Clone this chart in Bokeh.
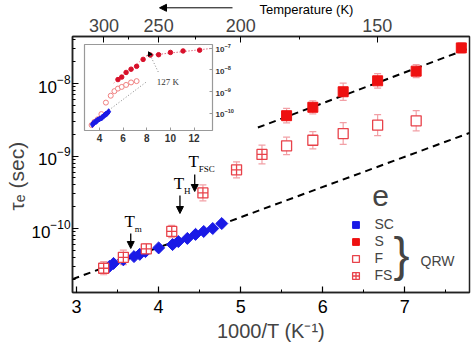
import math
from bokeh.plotting import figure
from bokeh.models import (ColumnDataSource, Whisker, TeeHead, Arrow, NormalHead, Label,
                          Legend, LegendItem, LinearAxis, FixedTicker, CustomJSTickFormatter,
                          SingleIntervalTicker, Range1d)
from bokeh.core.properties import value
from bokeh.embed import file_html
from bokeh.resources import INLINE

# ---------------- data ----------------
sc_x = [3.40, 3.45, 3.57, 3.70, 3.77, 3.84, 4.00, 4.17, 4.24, 4.35, 4.45, 4.55, 4.66, 4.77]
sc_tau = [3.0e-11, 3.3e-11, 3.7e-11, 4.1e-11, 4.4e-11, 4.8e-11, 5.4e-11, 6.0e-11,
          6.6e-11, 7.3e-11, 8.3e-11, 9.1e-11, 1.0e-10, 1.17e-10]

s_x = [5.56, 5.88, 6.25, 6.67, 7.14, 7.69]
s_tau = [3.6e-9, 4.7e-9, 7.7e-9, 1.09e-8, 1.48e-8, 3.1e-8]
s_err_dec = [0.10, 0.09, 0.12, 0.10, 0.09, 0.07]

f_x = [5.56, 5.88, 6.25, 6.67, 7.14]
f_tau = [1.38e-9, 1.65e-9, 2.04e-9, 2.66e-9, 3.06e-9]
f_err_dec = [0.12, 0.12, 0.15, 0.145, 0.14]

fs_x = [3.33, 3.57, 3.85, 4.16, 4.54, 4.95, 5.26]
fs_tau = [2.83e-11, 4.0e-11, 5.25e-11, 9.1e-11, 3.1e-10, 6.45e-10, 1.05e-9]
fs_err_dec = [0.09, 0.10, 0.07, 0.085, 0.11, 0.11, 0.13]

fit_sc_x = [2.95, 7.80]
fit_sc_tau = [2.0e-11, 2.1e-9]
fit_s_x = [5.21, 7.78]
fit_s_tau = [2.47e-9, 3.04e-8]

ann_x = [3.66, 4.26, 4.44]
ann_sub = ["m", "H", "FSC"]
ann_tau_top = [8.5e-11, 2.85e-10, 5.56e-10]
ann_tau_bottom = [5.3e-11, 1.61e-10, 3.24e-10]

temp_major = [300, 250, 200, 150]
temp_minor = [275, 225, 175]

# inset
ins_s_extra_x = [8.30, 9.0, 10.0, 11.07, 12.47]
ins_s_extra_tau = [4.9e-8, 5.1e-8, 6.5e-8, 7.6e-8, 8.3e-8]
ins_fit_sc_x = [4.8, 8.0]
ins_fit_sc_tau = [1.4e-10, 2.9e-9]
ins_fit_s_x = [5.2, 8.0]
ins_fit_s_tau = [2.45e-9, 4.6e-8]
ins_fit_low_x = [8.0, 13.5]
ins_fit_low_tau = [4.6e-8, 1.0e-7]

SANS = "Liberation Sans"
SERIF = "Liberation Serif"
BLUE = "#1a1ae6"
RED = "#ee1111"
PINK = "#e8424a"
BAR = "#f2a0a6"
NB = "\u00a0"


def err_src(xs, ys, ed):
    return ColumnDataSource(dict(x=xs, y=ys,
                                 lo=[y * 10 ** (-e) for y, e in zip(ys, ed)],
                                 hi=[y * 10 ** e for y, e in zip(ys, ed)]))


# ---------------- main figure ----------------
p = figure(width=474, height=347, x_range=(2.95, 7.79), y_range=(1.31e-11, 4.45e-8),
           y_axis_type="log", output_backend="svg", toolbar_location=None,
           min_border_left=72, min_border_right=5, min_border_top=36, min_border_bottom=55)
p.grid.visible = False
p.outline_line_color = "#222222"
p.outline_line_width = 1.5
p.background_fill_color = "white"
p.border_fill_color = "white"

xa = p.xaxis[0]
xa.ticker = SingleIntervalTicker(interval=1, num_minor_ticks=2)
xa.axis_label = "1000/T (K\u207b\u00b9)"
xa.axis_label_text_font = SANS
xa.axis_label_text_font_size = "20px"
xa.axis_label_text_font_style = "normal"
xa.axis_label_standoff = 4
xa.major_label_text_font = SANS
xa.major_label_text_font_size = "18px"
xa.major_label_standoff = 7

ya = p.yaxis[0]
ya.major_label_text_font = SANS
ya.major_label_text_font_size = "17px"
ya.major_label_standoff = 2
ya.axis_label = "\u03c4\u2091 (sec)" + NB * 4
ya.axis_label_text_font = SANS
ya.axis_label_text_font_size = "21px"
ya.axis_label_text_font_style = "normal"
ya.axis_label_standoff = 0

for ax in (xa, ya):
    ax.major_tick_in = 6
    ax.major_tick_out = 0
    ax.minor_tick_in = 3
    ax.minor_tick_out = 0
    ax.axis_line_color = "#222222"
    ax.axis_line_width = 1.5
    ax.major_tick_line_width = 1.2
    ax.major_label_text_color = "black"

top = LinearAxis(
    ticker=FixedTicker(ticks=[1000 / t for t in temp_major], minor_ticks=[1000 / t for t in temp_minor]),
    formatter=CustomJSTickFormatter(code="return Math.round(1000/tick).toString()"),
    major_tick_in=6, major_tick_out=0, minor_tick_in=3, minor_tick_out=0,
    major_label_text_font=SANS, major_label_text_font_size="18px", major_label_standoff=5,
    axis_line_color="#222222", axis_line_width=1.5)
p.add_layout(top, "above")

# fit lines
p.line(fit_sc_x, fit_sc_tau, line_color="black", line_width=2, line_dash="7 5")
p.line(fit_s_x, fit_s_tau, line_color="black", line_width=2, line_dash="7 5")

# error bars
for xs, ys, ed in ((s_x, s_tau, s_err_dec), (f_x, f_tau, f_err_dec), (fs_x, fs_tau, fs_err_dec)):
    w = Whisker(source=err_src(xs, ys, ed), base="x", lower="lo", upper="hi",
                line_color=BAR, line_width=1.2, level="underlay",
                upper_head=TeeHead(size=7, line_color=BAR, line_width=1.2),
                lower_head=TeeHead(size=7, line_color=BAR, line_width=1.2))
    p.add_layout(w)

r_sc = p.scatter(sc_x, sc_tau, marker="square", angle=math.pi / 4, size=8.5,
                 fill_color=BLUE, line_color=BLUE)
r_s = p.scatter(s_x, s_tau, marker="square", size=10, fill_color=RED, line_color=RED)
r_f = p.scatter(f_x, f_tau, marker="square", size=10, fill_color="white", line_color=PINK, line_width=1.3)
r_fs = p.scatter(fs_x, fs_tau, marker="square_cross", size=10, fill_color="white", line_color=PINK, line_width=1.3)

# T annotations
ann_src = ColumnDataSource(dict(x=ann_x, y0=ann_tau_top, y1=ann_tau_bottom, sub=ann_sub,
                                t=["T"] * len(ann_x)))
p.add_layout(Arrow(source=ann_src, x_start="x", y_start="y0", x_end="x", y_end="y1",
                   line_color="black", line_width=1.3,
                   end=NormalHead(size=7, fill_color="black", line_color="black")))
p.text(x="x", y="y0", text="t", source=ann_src, text_font=value(SERIF), text_font_size="17px",
       text_align="center", text_baseline="bottom", x_offset=-1, y_offset=-3, text_color="black")
p.text(x="x", y="y0", text="sub", source=ann_src, text_font=value(SERIF), text_font_size="9px",
       text_align="left", text_baseline="bottom", x_offset=4, y_offset=0, text_color="black")

# legend
legend = Legend(items=[LegendItem(label="SC", renderers=[r_sc]),
                       LegendItem(label="S", renderers=[r_s]),
                       LegendItem(label="F", renderers=[r_f]),
                       LegendItem(label="FS", renderers=[r_fs])],
                location=(274.5, 8.5), padding=0, margin=0, spacing=0,
                label_height=17, glyph_height=17, glyph_width=17, label_standoff=11,
                label_text_font=SANS, label_text_font_size="14px",
                background_fill_alpha=0, border_line_color=None)
p.add_layout(legend)

p.add_layout(Label(x=308, y=97, x_units="screen", y_units="screen", text="e",
                   text_font=SANS, text_font_size="30px", text_align="center",
                   text_baseline="middle"))
p.add_layout(Label(x=329, y=38, x_units="screen", y_units="screen", text="}",
                   text_font=SANS, text_font_size="48px", text_align="center",
                   text_baseline="middle"))
p.add_layout(Label(x=348, y=32, x_units="screen", y_units="screen", text="QRW",
                   text_font=SANS, text_font_size="14px", text_align="left",
                   text_baseline="middle"))

# ---------------- header (temperature title and arrow) ----------------
hdr = figure(width=474, height=18, x_range=Range1d(0, 474), y_range=Range1d(18, 0),
             x_axis_type=None, y_axis_type=None, output_backend="svg", toolbar_location=None,
             min_border=0, min_border_left=0, min_border_right=0, min_border_top=0,
             min_border_bottom=0)
hdr.grid.visible = False
hdr.outline_line_color = None
hdr.background_fill_alpha = 0
hdr.border_fill_alpha = 0
hdr.text(x=[259], y=[8.5], text=["Temperature (K)"], text_font=value(SANS),
         text_font_size="13px", text_align="left", text_baseline="middle", text_color="black")
hdr.add_layout(Arrow(x_start=232, y_start=7.3, x_end=159, y_end=7.3, line_width=1,
                     line_color="black",
                     end=NormalHead(size=7, fill_color="black", line_color="black")))
hdr.styles = {"position": "absolute", "left": "0px", "top": "0px"}

# ---------------- inset ----------------
ins = figure(width=160, height=106, x_range=(2.73, 13.56), y_range=(10 ** -10.8, 10 ** -6.82),
             y_axis_type="log", y_axis_location="right", output_backend="svg",
             toolbar_location=None, min_border_left=2, min_border_top=2,
             min_border_right=30, min_border_bottom=18)
ins.grid.visible = False
ins.outline_line_color = "#999999"
ins.outline_line_width = 1.2
ins.border_fill_alpha = 0
ins.background_fill_color = "white"
ins.xaxis.ticker = SingleIntervalTicker(interval=2, num_minor_ticks=0)
for ax in (ins.xaxis[0], ins.yaxis[0]):
    ax.axis_line_color = None
    ax.major_tick_in = 3
    ax.major_tick_out = 0
    ax.minor_tick_in = 0
    ax.minor_tick_out = 0
    ax.major_tick_line_color = "#999999"
    ax.major_label_text_font = SANS
    ax.major_label_standoff = 3
ins.xaxis.major_label_text_font_size = "10px"
ins.xaxis.major_label_text_font_style = "bold"
ins.xaxis.major_label_text_color = "#333333"
ins.yaxis.major_label_text_font_size = "8px"
ins.yaxis.major_label_text_font_style = "bold"
ins.yaxis.major_label_text_color = "#333333"

ins.line(ins_fit_sc_x, ins_fit_sc_tau, line_color="#888888", line_width=1, line_dash="1 2")
ins.line(ins_fit_s_x, ins_fit_s_tau, line_color="#e88080", line_width=1, line_dash="1 2")
ins.line(ins_fit_low_x, ins_fit_low_tau, line_color="#d02040", line_width=1, line_dash="1 2")
ins.scatter(fs_x + f_x, fs_tau + f_tau, marker="circle", size=5, fill_color="white",
            line_color="#f08080", line_width=1)
ins.scatter(sc_x, sc_tau, marker="diamond", size=6, fill_color=BLUE, line_color=BLUE)
ins.scatter(s_x + ins_s_extra_x, s_tau + ins_s_extra_tau, marker="circle", size=4.5,
            fill_color="#d8102a", line_color="#d8102a")
ins.add_layout(Arrow(x_start=8.97, y_start=8.1e-9, x_end=8.15, y_end=7.0e-8,
                     line_color="#888888", line_width=1, line_dash="1 2",
                     end=NormalHead(size=4, fill_color="black", line_color="black")))
ins.add_layout(Label(x=8.85, y=2.8e-9, text="127 K", text_font=SERIF, text_font_size="9px",
                     text_align="left", text_baseline="middle", text_color="#333333"))
ins.styles = {"position": "absolute", "left": "82px", "top": "42px"}

open("out.html", "w").write(file_html([p, ins, hdr], INLINE))
